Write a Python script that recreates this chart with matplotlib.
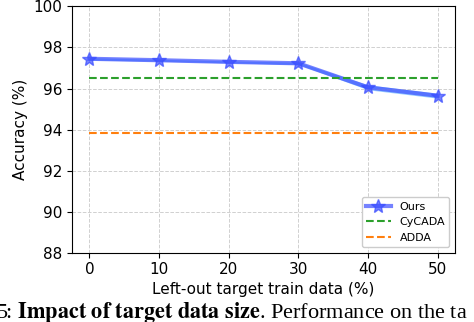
import matplotlib.pyplot as plt
import numpy as np

left_out = [0, 10, 20, 30, 40, 50]
ours = [97.45, 97.38, 97.30, 97.23, 96.06, 95.65]
ours_std = [0.06, 0.05, 0.05, 0.06, 0.12, 0.12]
cycada = [96.52] * 6
adda = [93.82] * 6

fig = plt.figure(figsize=(4.74, 3.22), dpi=100)
ax = fig.add_axes([0.152, 0.215, 0.808, 0.765])

lo = np.array(ours) - np.array(ours_std)
hi = np.array(ours) + np.array(ours_std)
ax.fill_between(left_out, lo, hi, color="#4fa8ff", alpha=0.6, lw=0)
ax.plot(left_out, ours, color="#3a4dff", alpha=0.7, lw=3, marker="*",
        markersize=10, label="Ours")
ax.plot(left_out, cycada, "--", color="#2ca02c", lw=1.5, label="CyCADA")
ax.plot(left_out, adda, "--", color="#ff7f0e", lw=1.5, label="ADDA")

ax.set_ylim(88, 100)
ax.set_xlim(-2.5, 52.5)
ax.set_xticks(left_out)
ax.set_yticks(range(88, 101, 2))
ax.grid(True, ls="--", color="#d0d0d0", lw=0.7)
ax.tick_params(labelsize=11)
ax.set_xlabel("Left-out target train data (%)", fontsize=11, labelpad=3)
ax.set_ylabel("Accuracy (%)", fontsize=11, labelpad=4)
ax.legend(loc="lower right", fontsize=8, handlelength=2.2, framealpha=1)

# caption fragment from the paper, clipped at the bottom/right like the source
fig.text(-0.008, 0.012, r"5: $\mathbf{Impact\ of\ target\ data\ size}$. Performance on the ta",
         family="Liberation Serif", fontsize=16, va="baseline", ha="left",
         math_fontfamily="stix")

fig.savefig("out.png", dpi=100)
